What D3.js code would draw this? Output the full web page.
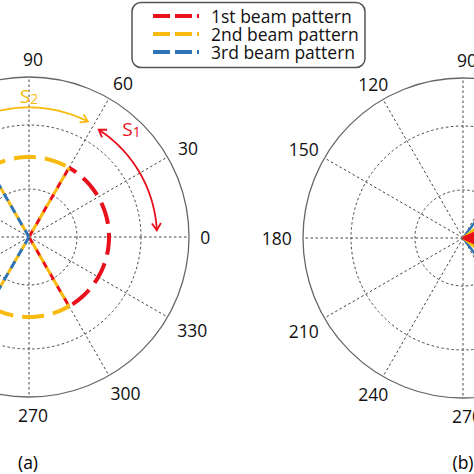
<!DOCTYPE html>
<html>
<head>
<meta charset="utf-8">
<script src="https://cdn.jsdelivr.net/npm/d3@7/dist/d3.min.js"></script>
<style>
html, body { margin: 0; padding: 0; background: #fff; overflow: hidden; }
text { font-family: "Open Sans", sans-serif; }
</style>
</head>
<body>
<script>
const W = 474, H = 474;

// angle labels shown on each panel (degrees)
const ticksA = [0, 30, 60, 90, 270, 300, 330];
const ticksB = [90, 120, 150, 180, 210, 240, 270];
const spokeAngles = [0, 30, 60, 90, 120, 150, 180, 210, 240, 270, 300, 330];
const ringValues = [0.3, 0.7];

// beams
const beamNames = ["1st beam pattern", "2nd beam pattern", "3rd beam pattern"];
const beamColors = ["#E8101A", "#F8BA0E", "#2F74B5"];
// panel (a): angular sectors covered by each beam, and beam level
const beamSectors = [[[-60, 60]], [[60, 120], [240, 300]], [[120, 240]]];
const beamLevel = [0.5, 0.5, 0.5];

// panel (a): steering arcs S1, S2
const steerSub = ["1", "2"];
const steerColors = ["#E8101A", "#F8BA0E"];
const steerSpan = [[57, 3], [150, 63]];
const steerLevel = [0.8, 0.81];
const steerLabelAngle = [46.5, 90];
const steerLabelLevel = [0.93, 0.88];

// panel (b): narrow lobes around 0 deg (half width deg, level)
const lobeHalfWidth = [24, 38, 53];
const lobeLevel = [0.09, 0.11, 0.14];

// Returns a function mapping (deg, value) -> [x, y] for a panel.
function polar(cx, cy, r) {
    return (deg, v) => {
        const t = deg * Math.PI / 180;
        return [cx + r(v) * Math.cos(t), cy - r(v) * Math.sin(t)];
    };
}

function arcPoints(a0, a1, v) {
    const step = a1 >= a0 ? 1 : -1;
    return d3.range(a0, a1 + step * 0.5, step).map(a => [a, v]);
}

const svg = d3.select("body").append("svg")
    .attr("width", W).attr("height", H);

const defs = svg.append("defs");
steerColors.forEach((c, i) => {
    defs.append("marker")
        .attr("id", "head" + i)
        .attr("markerUnits", "userSpaceOnUse")
        .attr("viewBox", "-10 -6 12 12")
        .attr("markerWidth", 12).attr("markerHeight", 12)
        .attr("refX", 0).attr("refY", 0)
        .attr("orient", "auto-start-reverse")
        .append("path")
        .attr("d", "M-7,-4.5 L0,0 L-7,4.5")
        .attr("fill", "none")
        .attr("stroke", c)
        .attr("stroke-width", 1.8);
});

const r = d3.scaleLinear().domain([0, 1]).range([0, 160]);
const line = d3.line();

// Draws the grid and angle labels of a polar panel.
function drawGrid(cx, cy, ticks) {
    const g = svg.append("g");
    const P = polar(cx, cy, r);

    g.selectAll(".ring")
        .data(ringValues)
        .enter().append("circle")
        .attr("cx", cx).attr("cy", cy)
        .attr("r", d => r(d))
        .attr("fill", "none")
        .attr("stroke", "#444")
        .attr("stroke-width", 1)
        .attr("stroke-dasharray", "2.5,2.5");

    g.selectAll(".spoke")
        .data(spokeAngles)
        .enter().append("line")
        .attr("x1", cx).attr("y1", cy)
        .attr("x2", d => P(d, 1)[0])
        .attr("y2", d => P(d, 1)[1])
        .attr("stroke", "#444")
        .attr("stroke-width", 1)
        .attr("stroke-dasharray", "2.5,2.5");

    g.append("circle")
        .attr("cx", cx).attr("cy", cy).attr("r", r(1))
        .attr("fill", "none")
        .attr("stroke", "#666")
        .attr("stroke-width", 1.3);

    // labels sit just outside the circle, pushed out by half their box
    g.selectAll(".tick")
        .data(ticks)
        .enter().append("text")
        .attr("text-anchor", "middle")
        .attr("dominant-baseline", "central")
        .attr("font-size", "17.5px")
        .attr("fill", "#111")
        .text(d => d)
        .each(function(d) {
            const w = this.getComputedTextLength();
            const t = d * Math.PI / 180;
            const c = Math.cos(t), s = Math.sin(t);
            const p = P(d, 1.07);
            let x = p[0] + c * w / 2 + 4 * Math.abs(s);
            let y = p[1] - s * 7;
            if (s < -0.01) y += 4 * Math.abs(c);
            d3.select(this).attr("x", x).attr("y", y);
        });
    return g;
}

// ---- panel (a)
const cxA = 29, cyA = 237;
const PA = polar(cxA, cyA, r);
drawGrid(cxA, cyA, ticksA);

beamSectors.forEach((sectors, i) => {
    sectors.forEach(s => {
        // arc part
        svg.append("path")
            .attr("d", line(arcPoints(s[0], s[1], beamLevel[i]).map(p => PA(p[0], p[1]))))
            .attr("fill", "none")
            .attr("stroke", beamColors[i])
            .attr("stroke-width", 4)
            .attr("stroke-dasharray", "22,9")
            .attr("stroke-dashoffset", -4);
        // radial edges
        s.forEach(a => {
            const e = PA(a, beamLevel[i]);
            svg.append("line")
                .attr("x1", cxA).attr("y1", cyA)
                .attr("x2", e[0]).attr("y2", e[1])
                .attr("stroke", beamColors[i])
                .attr("stroke-width", 3)
                .attr("stroke-dasharray", "8,6")
                .attr("stroke-dashoffset", -i * 7);
        });
    });
});

steerSpan.forEach((s, i) => {
    const p = svg.append("path")
        .attr("d", line(arcPoints(s[0], s[1], steerLevel[i]).map(q => PA(q[0], q[1]))))
        .attr("fill", "none")
        .attr("stroke", steerColors[i])
        .attr("stroke-width", 1.8)
        .attr("marker-end", "url(#head" + i + ")");
    if (i === 0) p.attr("marker-start", "url(#head" + i + ")");

    const lp = PA(steerLabelAngle[i], steerLabelLevel[i]);
    const t = svg.append("text")
        .attr("x", lp[0]).attr("y", lp[1])
        .attr("text-anchor", "middle")
        .attr("dominant-baseline", "central")
        .attr("font-family", "Liberation Serif, serif")
        .attr("font-size", "19px")
        .attr("fill", steerColors[i]);
    t.append("tspan").text("S");
    t.append("tspan").attr("font-size", "14px").attr("dy", "2").text(steerSub[i]);
});

svg.append("text")
    .attr("x", 28).attr("y", 462)
    .attr("text-anchor", "middle")
    .attr("dominant-baseline", "central")
    .attr("font-size", "17.5px")
    .text("(a)");

// ---- panel (b)
const cxB = 463, cyB = 238;
const PB = polar(cxB, cyB, r);
drawGrid(cxB, cyB, ticksB);

[2, 1, 0].forEach(i => {
    const h = lobeHalfWidth[i];
    const pts = [[-h, 0]].concat(arcPoints(-h, h, lobeLevel[i]), [[h, 0]]);
    svg.append("path")
        .attr("d", line(pts.map(p => PB(p[0], p[1]))))
        .attr("fill", i === 2 ? "none" : beamColors[i])
        .attr("fill-opacity", i === 0 ? 1 : 0.8)
        .attr("stroke", beamColors[i])
        .attr("stroke-width", 2.5)
        .attr("stroke-linejoin", "round");
});

svg.append("text")
    .attr("x", 463).attr("y", 462)
    .attr("text-anchor", "middle")
    .attr("dominant-baseline", "central")
    .attr("font-size", "17.5px")
    .text("(b)");

// ---- legend
const legend = svg.append("g");
legend.append("rect")
    .attr("x", 132).attr("y", 2.5)
    .attr("width", 233).attr("height", 65)
    .attr("rx", 9)
    .attr("fill", "#fff")
    .attr("stroke", "#555")
    .attr("stroke-width", 1.5);

const rowY = d3.scalePoint().domain(beamNames).range([16, 52]);
beamNames.forEach((name, i) => {
    legend.append("line")
        .attr("x1", 153).attr("x2", 199)
        .attr("y1", rowY(name)).attr("y2", rowY(name))
        .attr("stroke", beamColors[i])
        .attr("stroke-width", 4)
        .attr("stroke-dasharray", "17,5");
    legend.append("text")
        .attr("x", 211).attr("y", rowY(name))
        .attr("dominant-baseline", "central")
        .attr("font-size", "17.5px")
        .attr("fill", "#111")
        .text(name);
});
</script>
</body>
</html>
